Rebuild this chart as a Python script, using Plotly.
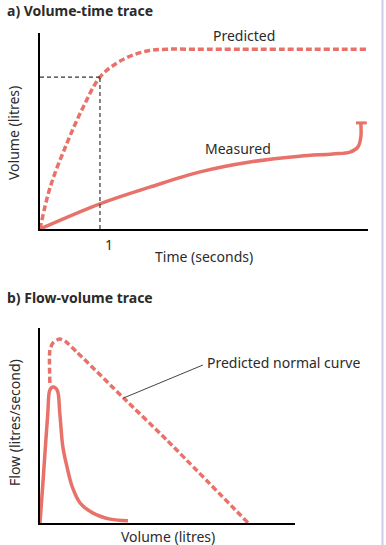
import plotly.graph_objects as go

# ---- Data: a) Volume-time trace (time in s, volume in L) ----
pred_t = [0, 0.17, 0.45, 0.72, 1.0, 1.28, 1.55, 1.83, 2.12, 2.6, 5.47]
pred_v = [0, 0.93, 1.91, 2.71, 3.38, 3.69, 3.87, 3.97, 4.0, 4.0, 4.0]
meas_t = [0, 1.0, 1.83, 2.67, 3.5, 4.33, 4.88, 5.17, 5.30, 5.35, 5.35]
meas_v = [0, 0.56, 0.93, 1.27, 1.49, 1.62, 1.67, 1.71, 1.82, 2.04, 2.36]
cap_t = [5.27, 5.45]
cap_v = [2.36, 2.36]
ref_t = 1.0
ref_v = 3.38
time_ticks = [1]
time_ticktext = ["1"]

# ---- Data: b) Flow-volume trace (volume in L, flow in L/s) ----
fv_pred_vol = [0.19, 0.19, 0.25, 0.37, 0.48, 0.71, 1.6, 2.44, 4.0]
fv_pred_flow = [6.09, 7.52, 7.83, 8.0, 7.91, 7.43, 5.45, 3.6, 0.0]
fv_meas_vol = [0, 0.06, 0.15, 0.19, 0.25, 0.33, 0.38, 0.44, 0.52, 0.62, 0.77, 1.02, 1.35, 1.69]
fv_meas_flow = [0, 1.87, 4.78, 5.78, 5.91, 5.78, 4.78, 3.3, 2.43, 1.57, 0.87, 0.43, 0.17, 0.10]
leader_vol = [1.6, 3.13]
leader_flow = [5.43, 6.87]

RED = "#e8726a"
TXT = "#2b2b2b"
FONT = "Noto Sans"
W, H = 386, 545

fig = go.Figure()

# Top panel
fig.add_trace(go.Scatter(x=pred_t, y=pred_v, mode="lines", line=dict(color=RED, width=3.5, dash="6px,3px", shape="spline"),
                         xaxis="x", yaxis="y", showlegend=False, hoverinfo="skip"))
fig.add_trace(go.Scatter(x=meas_t, y=meas_v, mode="lines", line=dict(color=RED, width=3.5, shape="spline"),
                         xaxis="x", yaxis="y", showlegend=False, hoverinfo="skip"))
fig.add_trace(go.Scatter(x=cap_t, y=cap_v, mode="lines", line=dict(color=RED, width=3),
                         xaxis="x", yaxis="y", showlegend=False, hoverinfo="skip"))
fig.add_trace(go.Scatter(x=[ref_t, ref_t], y=[0, ref_v], mode="lines", line=dict(color="#333", width=1.2, dash="4px,3px"),
                         xaxis="x", yaxis="y", showlegend=False, hoverinfo="skip"))
fig.add_trace(go.Scatter(x=[0, ref_t], y=[ref_v, ref_v], mode="lines", line=dict(color="#333", width=1.2, dash="4px,3px"),
                         xaxis="x", yaxis="y", showlegend=False, hoverinfo="skip"))

# Bottom panel
fig.add_trace(go.Scatter(x=fv_pred_vol, y=fv_pred_flow, mode="lines", line=dict(color=RED, width=3.5, dash="6px,3px", shape="spline", smoothing=0.6),
                         xaxis="x2", yaxis="y2", showlegend=False, hoverinfo="skip"))
fig.add_trace(go.Scatter(x=fv_meas_vol, y=fv_meas_flow, mode="lines", line=dict(color=RED, width=3.5, shape="spline"),
                         xaxis="x2", yaxis="y2", showlegend=False, hoverinfo="skip"))
fig.add_trace(go.Scatter(x=leader_vol, y=leader_flow, mode="lines", line=dict(color="#444", width=1),
                         xaxis="x2", yaxis="y2", showlegend=False, hoverinfo="skip"))

def px_x(p):
    return p / W

def px_y(p):
    return 1 - p / H

axis_common = dict(showgrid=False, zeroline=False, showline=True, linecolor="black", linewidth=2,
                   ticks="", showticklabels=False, fixedrange=True)

fig.update_layout(
    width=W, height=H,
    margin=dict(l=0, r=0, t=0, b=0),
    paper_bgcolor="white", plot_bgcolor="white",
    font=dict(family=FONT, color=TXT, size=14),
    xaxis=dict(domain=[px_x(40), px_x(368)], range=[0, 5.47], anchor="y",
               **{**axis_common, "showticklabels": True}, tickvals=time_ticks, ticktext=time_ticktext,
               ticklabelshift=9, ticklabelstandoff=2, tickfont=dict(family=FONT, size=14, color=TXT)),
    yaxis=dict(domain=[px_y(229), px_y(33)], range=[0, 4.36], anchor="x", **axis_common),
    xaxis2=dict(domain=[px_x(40), px_x(295)], range=[0, 4.9], anchor="y2", **axis_common),
    yaxis2=dict(domain=[px_y(523), px_y(328)], range=[0, 8.48], anchor="x2", **axis_common),
)

ann = [
    dict(text="<b>a) Volume-time trace</b>", x=px_x(5), y=px_y(10), xanchor="left", yanchor="middle", font=dict(size=14)),
    dict(text="<b>b) Flow-volume trace</b>", x=px_x(5), y=px_y(297), xanchor="left", yanchor="middle", font=dict(size=14)),
    dict(text="Volume (litres)", x=px_x(14), y=px_y(133), textangle=-90, xanchor="center", yanchor="middle"),
    dict(text="Time (seconds)", x=px_x(204), y=px_y(256), xanchor="center", yanchor="middle"),
    dict(text="Flow (litres/second)", x=px_x(14), y=px_y(423), textangle=-90, xanchor="center", yanchor="middle"),
    dict(text="Volume (litres)", x=px_x(168), y=px_y(536), xanchor="center", yanchor="middle"),
]
for a in ann:
    a.update(xref="paper", yref="paper", showarrow=False)
    fig.add_annotation(**a)

fig.add_annotation(text="Predicted", x=3.4, y=4.3, xref="x", yref="y", showarrow=False,
                   xanchor="center", yanchor="middle", font=dict(size=14))
fig.add_annotation(text="Measured", x=3.3, y=1.8, xref="x", yref="y", showarrow=False,
                   xanchor="center", yanchor="middle", font=dict(size=14))
fig.add_annotation(text="Predicted normal curve", x=3.17, y=7.0, xref="x2", yref="y2", showarrow=False,
                   xanchor="left", yanchor="middle", font=dict(size=14))

fig.add_shape(type="line", xref="paper", yref="paper", x0=px_x(382.5), x1=px_x(382.5), y0=0, y1=1,
              line=dict(color="#cdcde6", width=2))

fig.write_html("out.html", config={"displayModeBar": False, "staticPlot": True},
               post_script="document.body.style.margin='0';document.body.style.overflow='hidden';")
